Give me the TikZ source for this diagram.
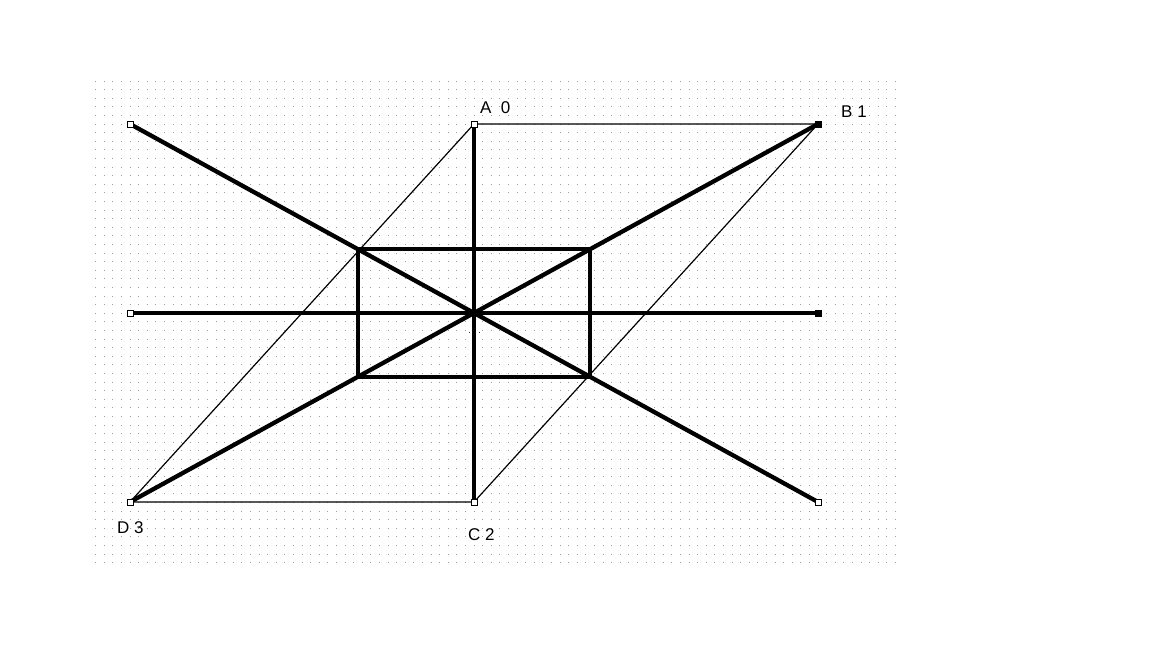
\documentclass[tikz,border=0pt]{standalone}
\usepackage{fontspec}
\setmainfont{Liberation Sans}
\begin{document}
\begin{tikzpicture}[x=1pt,y=-1pt,
  thickline/.style={line width=4.3pt},
  thinline/.style={line width=1.2pt},
  marker/.style={draw, fill=white, line width=1pt, minimum size=6pt, inner sep=0pt, shape=rectangle},
  fmarker/.style={draw, fill=black, line width=1pt, minimum size=6pt, inner sep=0pt, shape=rectangle},
  griddot/.style={line width=1pt, color=black!38, dash pattern=on 1pt off 7.6pt},
  lbl/.style={font=\fontsize{17}{17}\selectfont, anchor=west, inner sep=0pt}
]
\useasboundingbox (0,0) rectangle (1152,648);
\fill[white] (0,0) rectangle (1152,648);
% dotted grid
\foreach \i in {0,...,56} {
  \draw[griddot] (95.1,{81+\i*8.6}) -- (896,{81+\i*8.6});
}
% points
\coordinate (A) at (474,124);
\coordinate (B) at (818,124);
\coordinate (C) at (474,502);
\coordinate (D) at (130,502);
\coordinate (TL) at (130,124);
\coordinate (ML) at (130,313);
\coordinate (MR) at (818,313);
\coordinate (BR) at (818,502);
\coordinate (O) at (474,313);
\coordinate (R1) at (358,249.3);
\coordinate (R2) at (590,249.3);
\coordinate (R3) at (590,376.7);
\coordinate (R4) at (358,376.7);
% thin parallelogram
\draw[thinline] (A) -- (B) -- (C) -- (D) -- cycle;
% thick lines
\draw[thickline] (TL) -- (BR);
\draw[thickline] (D) -- (B);
\draw[thickline] (ML) -- (MR);
\draw[thickline] (A) -- (C);
\draw[thickline] (R1) -- (R2) -- (R3) -- (R4) -- cycle;
% markers
\foreach \p in {A,C,D,TL,ML,BR} { \node[marker] at (\p) {}; }
\node[fmarker] (mr) at (MR) {};
\node[fmarker] (mb) at (B) {};
% centre dots
\fill[black!80] (468.5,331.5) rectangle (470,333);
\fill[black!80] (478.5,331.5) rectangle (480,333);
% labels
\node[lbl] (la) at (480,108) {A\ \ 0};
\node[lbl] (lb) at (841,112) {B 1};
\node[lbl] (lc) at (468,535) {C 2};
\node[lbl] (ld) at (117,528) {D 3};
\end{tikzpicture}
\end{document}
